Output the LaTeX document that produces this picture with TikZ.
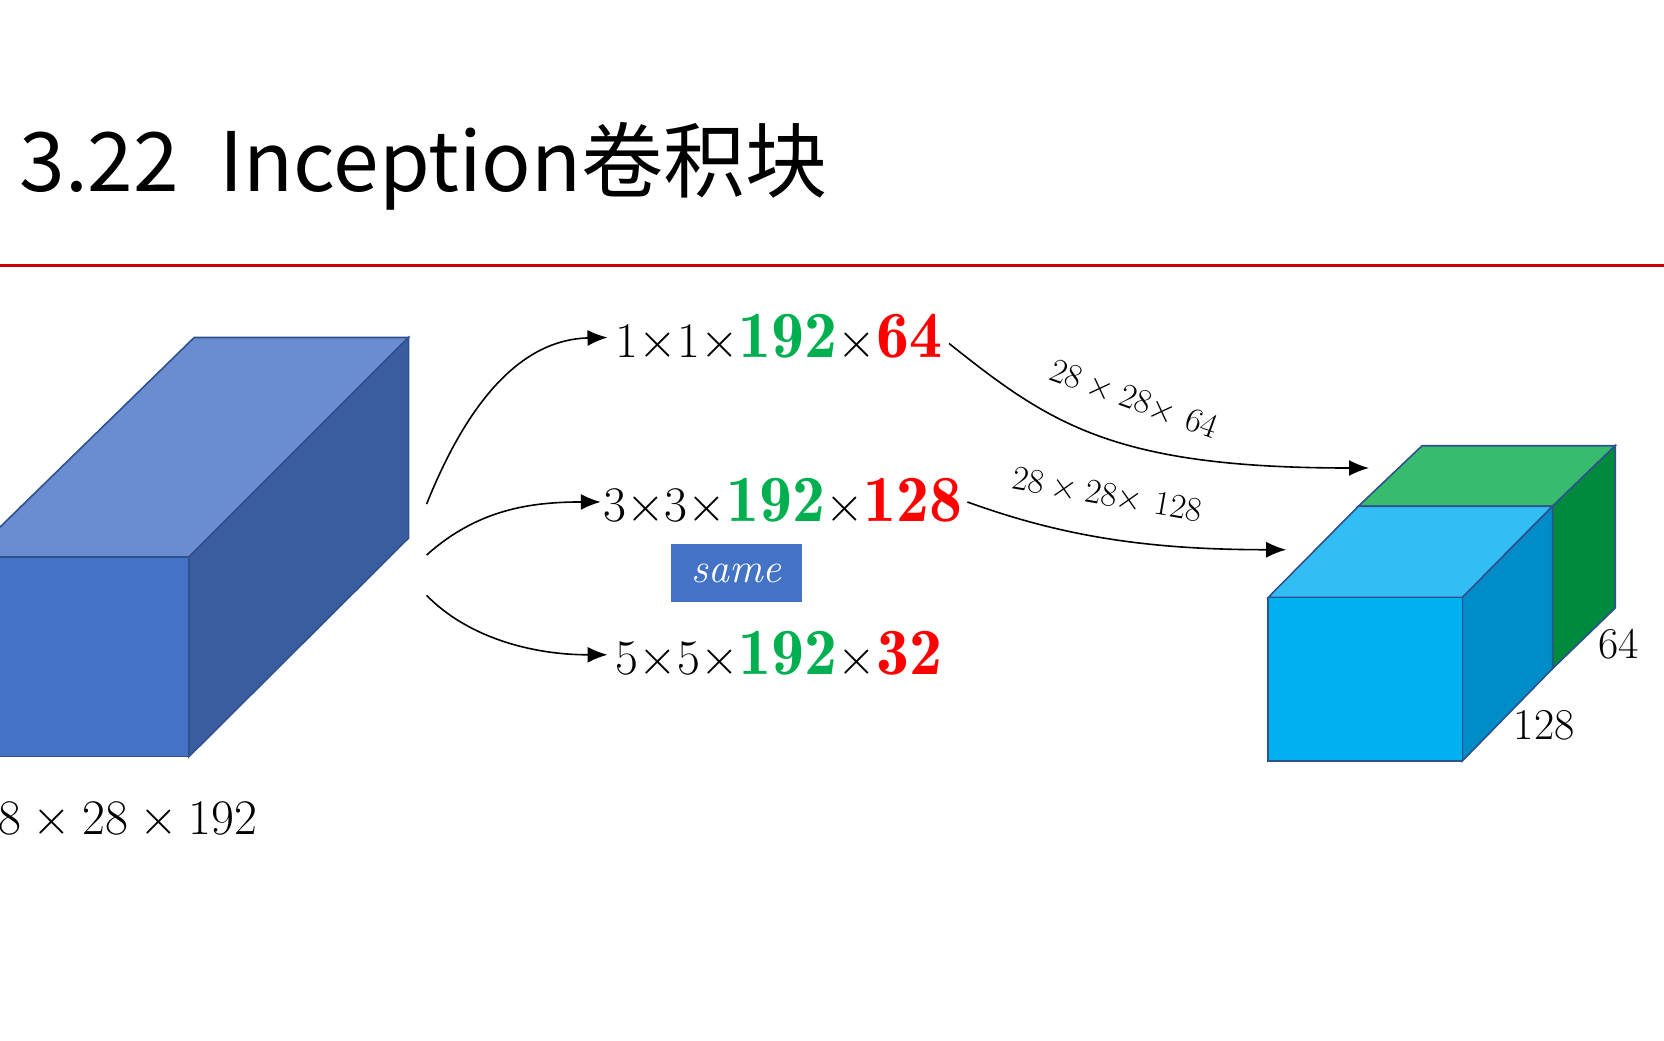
\documentclass[tikz,border=0pt]{standalone}
\usepackage{fontspec}
\usepackage{amsmath}
\usetikzlibrary{arrows.meta}
\newfontfamily\cjk{Noto Sans CJK SC}
\definecolor{gr}{HTML}{00B050}
\definecolor{rd}{HTML}{FF0000}
\begin{document}
\begin{tikzpicture}[x=0.5306pt,y=-0.5306pt,
  conn/.style={-{Latex[length=10pt,width=8pt]},line width=0.8pt},
  eq/.style={font=\fontsize{33}{36}\selectfont,inner sep=0pt},
  lbl/.style={font=\fontsize{19}{21}\selectfont,inner sep=0pt}]
\useasboundingbox (0,0) rectangle (1568,980);
\fill[white] (0,0) rectangle (1568,980);
\node[anchor=base west,inner sep=0pt,font=\cjk\fontsize{41}{48}\selectfont] (title) at (18,180) {3.22\hspace{0.5em}Inception卷积块};
\draw[color=red!80!black,line width=1.2pt] (0,250) -- (1568,250);
% big cuboid
\tikzset{eb/.style={draw={rgb,255:red,47;green,82;blue,143},line width=0.8pt}}
\begin{scope}
\clip (0,0) rectangle (1568,980);
\filldraw[eb,fill={rgb,255:red,106;green,140;blue,208}] (-29,525) -- (178,525) -- (385,318) -- (183,318) -- cycle;
\filldraw[eb,fill={rgb,255:red,58;green,93;blue,160}] (178,525) -- (385,318) -- (385,507) -- (178,713) -- cycle;
\filldraw[eb,fill={rgb,255:red,68;green,114;blue,196}] (-29,525) rectangle (178,713);
\end{scope}
\node[anchor=base,inner sep=0pt,font=\fontsize{29}{32}\selectfont] (bigl) at (110,786) {$28\times28\times192$};
% small cubes
\filldraw[eb,fill={rgb,255:red,55;green,188;blue,110}] (1280,477) -- (1463,477) -- (1522,420) -- (1340,420) -- cycle;
\filldraw[eb,fill={rgb,255:red,0;green,138;blue,62}] (1463,477) -- (1522,420) -- (1522,573) -- (1463,630) -- cycle;
\filldraw[eb,fill={rgb,255:red,50;green,190;blue,245}] (1195,563) -- (1378,563) -- (1463,477) -- (1280,477) -- cycle;
\filldraw[eb,fill={rgb,255:red,0;green,140;blue,198}] (1378,563) -- (1463,477) -- (1463,630) -- (1378,717) -- cycle;
\filldraw[eb,fill={rgb,255:red,0;green,176;blue,240}] (1195,563) rectangle (1378,717);
\node[font=\fontsize{22}{24}\selectfont,inner sep=0pt] (l64) at (1525,607) {64};
\node[font=\fontsize{22}{24}\selectfont,inner sep=0pt] (l128) at (1455,683) {128};
% equations
\node[eq,anchor=west] (e1) at (580,318) {$1{\times}1{\times}\textcolor{gr}{\mathbf{192}}{\times}\textcolor{rd}{\mathbf{64}}$};
\node[eq,anchor=west] (e2) at (568,473) {$3{\times}3{\times}\textcolor{gr}{\mathbf{192}}{\times}\textcolor{rd}{\mathbf{128}}$};
\node[eq,anchor=west] (e3) at (580,617) {$5{\times}5{\times}\textcolor{gr}{\mathbf{192}}{\times}\textcolor{rd}{\mathbf{32}}$};
\node[fill={rgb,255:red,68;green,114;blue,196},minimum width=124*0.5306pt,minimum height=55*0.5306pt,inner sep=0pt,text=white,font=\fontsize{21}{23}\selectfont] (same) at (694,540) {$\mathit{same}$};
% arrows
\coordinate (s1) at (402,475);
\coordinate (s2) at (402,523);
\coordinate (s3) at (402,561);
\coordinate (t1) at (1290,441);
\coordinate (t2) at (1212,518);
\draw[conn] (s1) .. controls (440,380) and (490,320) .. ([xshift=-4pt]e1.west);
\draw[conn] (s2) .. controls (450,480) and (500,473) .. ([xshift=-1pt]e2.west);
\draw[conn] (s3) .. controls (440,600) and (500,617) .. ([xshift=-4pt]e3.west);
\draw[conn] ([xshift=3pt,yshift=-3pt]e1.east) .. controls (990,400) and (1050,441) .. (t1);
\draw[conn] ([xshift=2pt]e2.east) .. controls (1000,505) and (1080,518) .. (t2);
\node[lbl,rotate=-20] (m1) at (1068,377) {$28\times28{\times}\ 64$};
\node[lbl,rotate=-10] (m2) at (1043,467) {$28\times28{\times}\ 128$};
\end{tikzpicture}
\end{document}
